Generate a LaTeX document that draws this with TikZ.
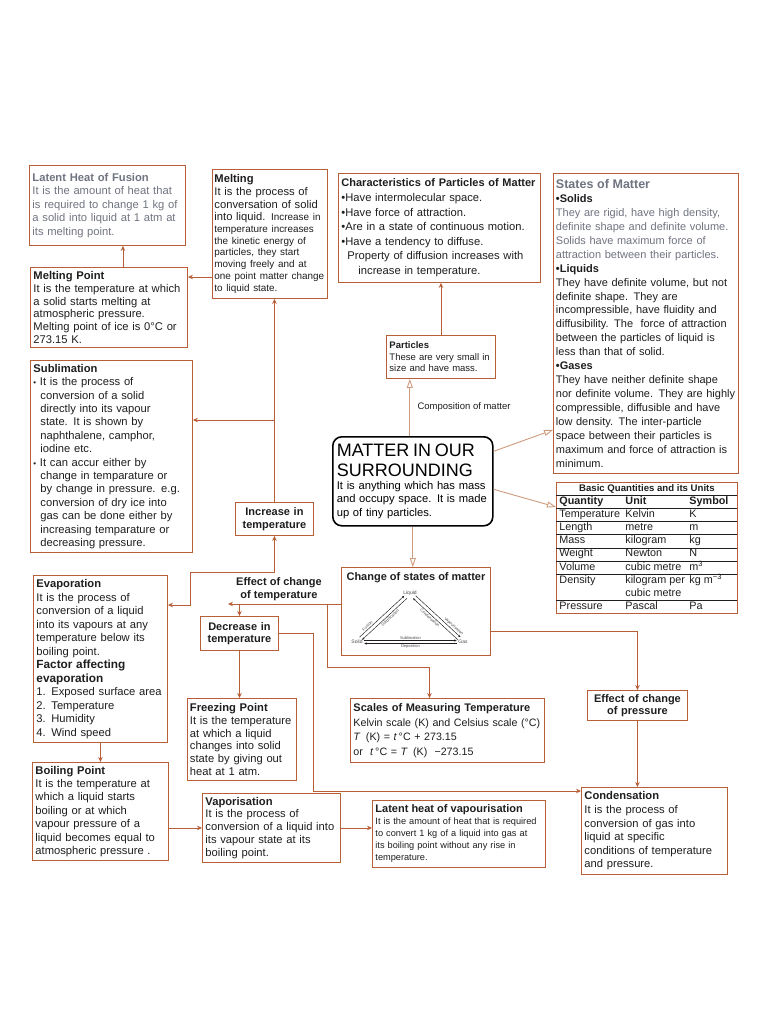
\documentclass[tikz,border=0pt]{standalone}
\usepackage{fontspec}
\setmainfont{Liberation Sans}
\usetikzlibrary{arrows.meta, positioning}
\definecolor{brn}{RGB}{185,95,55}
\definecolor{pale}{RGB}{205,155,125}
\definecolor{ink}{RGB}{30,30,30}
\definecolor{faded}{RGB}{112,116,128}

\begin{document}
\begin{tikzpicture}[x=1pt, y=-1pt,
    box/.style={draw=brn, line width=0.9pt, fill=white, anchor=north west, align=left,
        inner xsep=3pt, inner ysep=2pt, text=ink, font=\fontsize{11.2}{13.4}\selectfont},
    headbox/.style={box, align=center, font=\fontsize{11}{12.6}\selectfont\bfseries},
    tblbox/.style={draw=brn, line width=0.9pt, fill=white, anchor=north west, inner sep=0pt, text=ink},
    wire/.style={draw=brn, line width=0.9pt},
    arrow/.style={wire, -{Stealth[length=5pt, width=4.5pt]}},
    twoway/.style={wire, {Stealth[length=5pt, width=4.5pt]}-{Stealth[length=5pt, width=4.5pt]}},
    hollow/.style={draw=pale, line width=0.9pt, -{Triangle[open, length=9pt, width=6pt]}},
    statelbl/.style={font=\fontsize{5}{6}\selectfont, text=ink!80, inner sep=1.5pt},
    linelbl/.style={font=\fontsize{4}{5}\selectfont, text=ink!80, inner sep=0.4pt},
    tri/.style={draw=ink, line width=0.45pt, -{Stealth[length=2.5pt, width=2.2pt]}},
    irt/.style={draw=ink, line width=0.45pt, {Stealth[length=2.5pt, width=2.2pt]}-}
]
\useasboundingbox (0,0) rectangle (768,1024);
\fill[white] (0,0) rectangle (768,1024);

\node[box, text=faded, text width=150pt, minimum height=80pt] (lhf) at (29,165)
    {\textbf{Latent Heat of Fusion}\\It is the amount of heat that\\is required to change 1 kg of\\a solid into liquid at 1 atm at\\its melting point.};
\node[box, inner xsep=2pt, text width=111pt, minimum height=129pt, font=\fontsize{11.2}{13}\selectfont] (melt) at (212,169)
    {\textbf{Melting}\\It is the process of\\conversation of solid\par
     {\fontsize{9.9}{11.9}\selectfont{\fontsize{11.2}{11.9}\selectfont into liquid.} Increase in\\temperature increases\\the kinetic energy of\\particles, they start\\moving freely and at\\one point matter change\\to liquid state.\par}};
\node[box, text width=151pt, minimum height=80pt, font=\fontsize{11.2}{12.8}\selectfont] (mpt) at (30,267)
    {\textbf{Melting Point}\\It is the temperature at which\\a solid starts melting at\\atmospheric pressure.\\Melting point of ice is 0°C or\\273.15 K.};
\node[box, text width=156pt, minimum height=192pt] (subl) at (30,360)
    {\textbf{Sublimation}\\
     {\footnotesize\textbullet}\ It is the process of\\
     \hspace*{7pt}conversion of a solid\\
     \hspace*{7pt}directly into its vapour\\
     \hspace*{7pt}state. It is shown by\\
     \hspace*{7pt}naphthalene, camphor,\\
     \hspace*{7pt}iodine etc.\\
     {\footnotesize\textbullet}\ It can accur either by\\
     \hspace*{7pt}change in temparature or\\
     \hspace*{7pt}by change in pressure. e.g.\\
     \hspace*{7pt}conversion of dry ice into\\
     \hspace*{7pt}gas can be done either by\\
     \hspace*{7pt}increasing temparature or\\
     \hspace*{7pt}decreasing pressure.};
\node[headbox, text width=72pt, minimum height=33pt] (incr) at (235,502) {Increase in\\temperature};

\node[box, text width=196pt, minimum height=109pt, font=\fontsize{11.2}{14.6}\selectfont] (chars) at (338,173)
    {{\fontsize{11}{14.6}\selectfont\bfseries Characteristics of Particles of Matter}\\
     \textbullet Have intermolecular space.\\
     \textbullet Have force of attraction.\\
     \textbullet Are in a state of continuous motion.\\
     \textbullet Have a tendency to diffuse.\\
     \hspace*{6pt}Property of diffusion increases with\\
     \hspace*{17pt}increase in temperature.};
\node[box, text width=103pt, minimum height=43pt, font=\fontsize{9.5}{11.5}\selectfont] (parts) at (386,335)
    {\textbf{Particles}\\These are very small in\\size and have mass.};
\node[box, draw=black, line width=1.6pt, rounded corners=9pt, text=black, inner xsep=4pt, text width=152pt, minimum height=89pt] (matter) at (332,436)
    {{\fontsize{18}{19.5}\selectfont MATTER IN OUR\\SURROUNDING\par}It is anything which has mass\\and occupy space. It is made\\up of tiny particles.};
\node[box, inner xsep=2.5pt, text width=180pt, minimum height=300pt, font=\fontsize{11}{13.95}\selectfont] (states) at (553,173)
    {{\fontsize{12.5}{13.95}\selectfont\bfseries\color{faded}States of Matter}\\
     \textbf{\textbullet Solids}\\
     {\color{faded}They are rigid, have high density,\\definite shape and definite volume.\\Solids have maximum force of\\attraction between their particles.}\\
     \textbf{\textbullet Liquids}\\
     They have definite volume, but not\\definite shape. They are\\incompressible, have fluidity and\\diffusibility. The\ \ force of attraction\\between the particles of liquid is\\less than that of solid.\\
     \textbf{\textbullet Gases}\\
     They have neither definite shape\\nor definite volume. They are highly\\compressible, diffusible and have\\low density. The inter-particle\\space between their particles is\\maximum and force of attraction is\\minimum.};
\node[tblbox] (qty) at (556,482) {\fontsize{10.8}{12.7}\selectfont
    \setlength{\tabcolsep}{0pt}%
    \begin{tabular}{@{\hspace{3pt}}p{66pt}p{64pt}p{48pt}@{}}
    \multicolumn{3}{c}{\fontsize{9.6}{11}\selectfont\bfseries Basic Quantities and its Units}\\\hline
    \textbf{Quantity} & \textbf{Unit} & \textbf{Symbol}\\\hline
    Temperature & Kelvin & K\\\hline
    Length & metre & m\\\hline
    Mass & kilogram & kg\\\hline
    Weight & Newton & N\\\hline
    Volume & cubic metre & m\textsuperscript{3}\\\hline
    Density & kilogram per\newline cubic metre & kg m\textsuperscript{−3}\\\hline
    Pressure & Pascal & Pa
    \end{tabular}};

\node[box, text width=128pt, minimum height=167pt, font=\fontsize{11.2}{13.5}\selectfont] (evap) at (33,575)
    {\textbf{Evaporation}\\It is the process of\\conversion of a liquid\\into its vapours at any\\temperature below its\\boiling point.\\
     {\fontsize{11.8}{13.5}\selectfont\bfseries Factor affecting\\evaporation}\\
     1. Exposed surface area\\2. Temperature\\3. Humidity\\4. Wind speed};
\node[font=\fontsize{11}{13}\selectfont\bfseries, align=center, text=ink] (efft) at (279,589) {Effect of change\\of temperature};
\node[headbox, text width=72pt, minimum height=34pt] (decr) at (200,616) {Decrease in\\temperature};
\node[box, minimum width=149pt, minimum height=88pt] (chg) at (341,567) {};
\node[font=\fontsize{11}{13}\selectfont\bfseries, text=ink, anchor=north] (chgt) at ([yshift=-2pt]chg.north) {Change of states of matter};
\node[statelbl] (liq) at (410,593) {Liquid};
\node[statelbl] (sol) at (357,642) {Solid};
\node[statelbl] (gas) at (463,642) {Gas};
\node[box, inner xsep=2.5pt, text width=104pt, minimum height=82pt, font=\fontsize{11.2}{12.9}\selectfont] (freeze) at (187,698)
    {\textbf{Freezing Point}\\It is the temperature\\at which a liquid\\changes into solid\\state by giving out\\heat at 1 atm.};
\node[box, text width=188pt, minimum height=64pt, font=\fontsize{10.7}{14.5}\selectfont] (scales) at (350,698)
    {{\fontsize{11}{14.5}\selectfont\bfseries Scales of Measuring Temperature}\\Kelvin scale (K) and Celsius scale (°C)\\
     \textit{T}\ \,(K) = \textit{t}\,°C + 273.15\\or\ \ \textit{t}\,°C = \textit{T}\ \,(K) \ −273.15};
\node[headbox, text width=94pt, minimum height=30pt, font=\fontsize{11}{12.5}\selectfont\bfseries] (effp) at (587,690) {Effect of change\\of pressure};
\node[box, text width=130pt, minimum height=98pt] (boil) at (32,762)
    {\textbf{Boiling Point}\\It is the temperature at\\which a liquid starts\\boiling or at which\\vapour pressure of a\\liquid becomes equal to\\atmospheric pressure .};
\node[box, text width=132pt, minimum height=69pt, font=\fontsize{11.2}{12.9}\selectfont] (vapo) at (202,793)
    {\textbf{Vaporisation}\\It is the process of\\conversion of a liquid into\\its vapour state at its\\boiling point.};
\node[box, text width=167pt, minimum height=67pt, font=\fontsize{9.2}{12}\selectfont] (lhv) at (372,800)
    {{\fontsize{11}{12}\selectfont\bfseries Latent heat of vapourisation}\\It is the amount of heat that is required\\to convert 1 kg of a liquid into gas at\\its boiling point without any rise in\\temperature.};
\node[box, text width=140pt, minimum height=87pt, font=\fontsize{11.2}{13.6}\selectfont] (cond) at (581,787)
    {\textbf{Condensation}\\It is the process of\\conversion of gas into\\liquid at specific\\conditions of temperature\\and pressure.};

\coordinate (lf) at ([xshift=14pt]mpt.north);
\draw[arrow] (lf) -- (lf |- lhf.south);
\coordinate (mp) at ([yshift=-10pt]mpt.north east);
\draw[arrow] (mp -| melt.west) -- (mp);
\draw[arrow] (incr.north) -- (incr.north |- melt.south);
\coordinate (sb) at (274,420);
\draw[arrow] (sb) -- (sb -| subl.east);
\coordinate (ev) at (190,572);
\coordinate (evin) at ([yshift=-30pt]evap.north east);
\draw[twoway] (incr.south) |- (ev) |- (evin);

\coordinate (et) at (228,604);
\draw[arrow] (et -| chg.west) -- (et);
\draw[arrow] (decr.north |- et) -- (decr.north);
\coordinate (sc) at (327,667);
\coordinate (scin) at ([xshift=-18pt]scales.north);
\draw[arrow] (sc |- et) -- (sc) -| (scin);
\draw[arrow] (decr.south) -- (decr.south |- freeze.north);
\coordinate (cin) at ([yshift=-4pt]cond.north west);
\draw[arrow] (decr.east) -- ++(35,0) |- (cin);
\coordinate (cp) at ([yshift=-20pt]chg.east);
\draw[arrow] (cp) -| (effp.north);
\draw[arrow] (effp.south) -- (effp.south |- cond.north);

\draw[arrow] (evap.south) -- (evap.south |- boil.north);
\draw[arrow] (boil.east |- vapo.west) -- (vapo.west);
\draw[arrow] (vapo.east) -- (vapo.east -| lhv.west);

\coordinate (mc) at ([xshift=-3pt]matter.north);
\draw[hollow] (mc) -- node[right=4pt, font=\fontsize{9.5}{11}\selectfont, text=ink] (comp) {Composition of matter} (mc |- parts.south);
\draw[hollow] ([yshift=30pt]matter.east) -- ([yshift=44pt]states.south west);
\draw[hollow] ([yshift=-8pt]matter.east) -- ([yshift=-25pt]qty.north west);
\draw[hollow] (matter.south) -- (matter.south |- chg.north);
\draw[arrow] (parts.north) -- (parts.north |- chars.south);

\draw[tri, transform canvas={xshift=-1.3pt, yshift=1.3pt}] (sol) -- node[linelbl, sloped, above=0.8pt, pos=0.22] {Fusion} (liq);
\draw[irt, transform canvas={xshift=1.3pt, yshift=-1.3pt}] (sol) -- node[linelbl, sloped, below=0.8pt, pos=0.58] {Solidification} (liq);
\draw[tri, transform canvas={xshift=1.3pt, yshift=1.3pt}] (liq) -- node[linelbl, sloped, above=0.8pt, pos=0.8] {Vapourisation} (gas);
\draw[irt, transform canvas={xshift=-1.3pt, yshift=-1.3pt}] (liq) -- node[linelbl, sloped, below=0.8pt, pos=0.42] {Condensation} (gas);
\draw[tri, transform canvas={yshift=1.5pt}] (sol) -- node[linelbl, above=0.6pt] {Sublimation} (gas);
\draw[irt, transform canvas={yshift=-1.5pt}] (sol) -- node[linelbl, below=0.6pt] {Deposition} (gas);
\end{tikzpicture}
\end{document}
